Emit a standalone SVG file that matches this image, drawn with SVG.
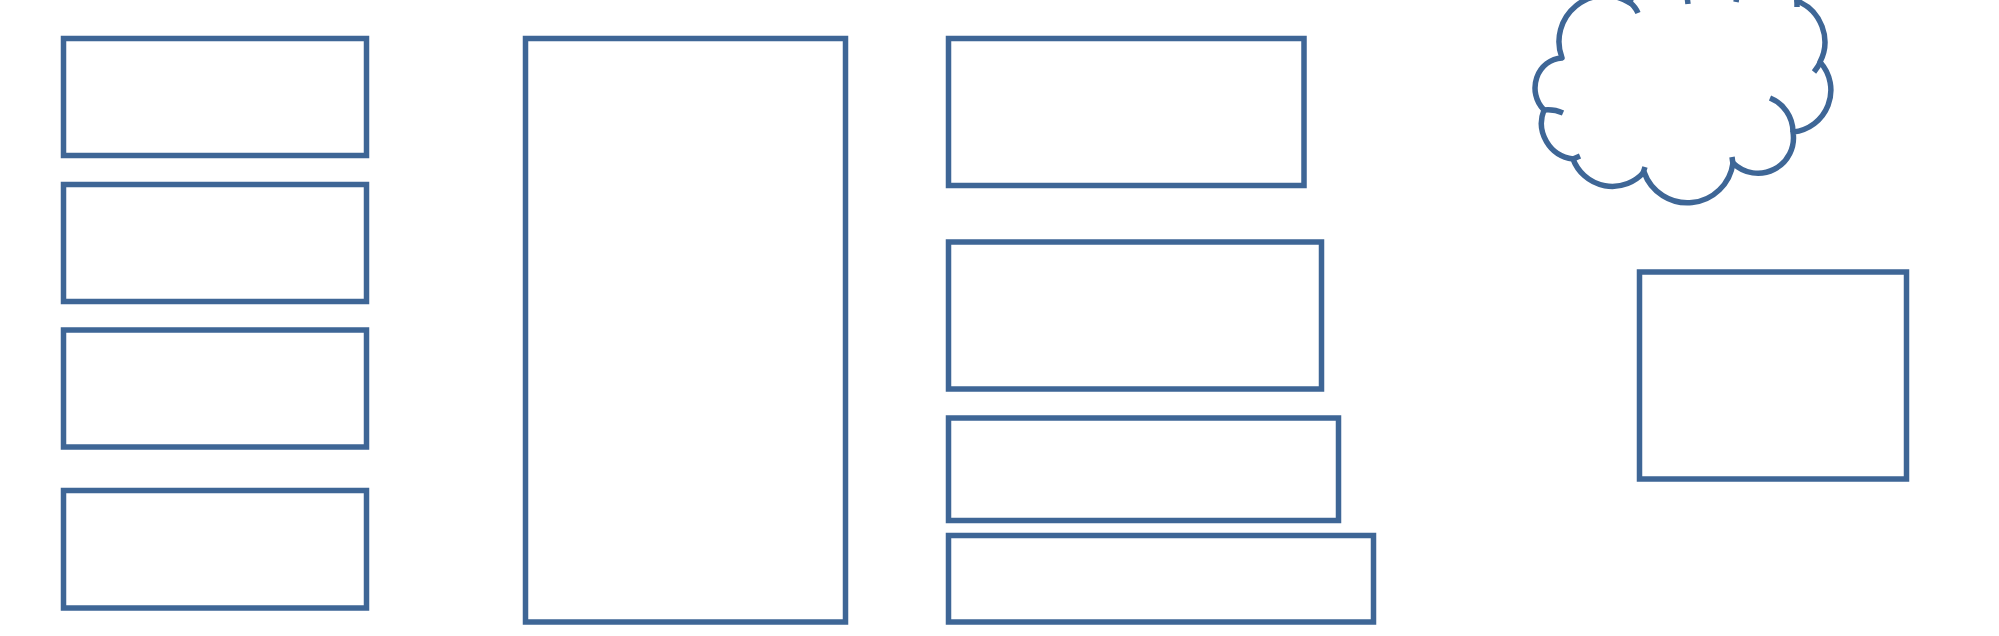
<svg xmlns="http://www.w3.org/2000/svg" width="1999" height="636" viewBox="0 0 1999 636">
  <style>
    .box { fill: #ffffff; stroke: #3e6696; stroke-width: 5.5; }
    .cloud { fill: #ffffff; stroke: #3e6696; stroke-width: 5.5; stroke-linejoin: round; }
    .tick { fill: none; stroke: #3e6696; stroke-width: 5.5; stroke-linecap: butt; }
  </style>
  <rect width="1999" height="636" fill="#ffffff"/>
  <g id="left-box-1"><rect class="box" x="63.5" y="38.5" width="303" height="117"/></g>
  <g id="left-box-2"><rect class="box" x="63.5" y="184.5" width="303" height="117"/></g>
  <g id="left-box-3"><rect class="box" x="63.5" y="330" width="303" height="117"/></g>
  <g id="left-box-4"><rect class="box" x="63.5" y="490.5" width="303" height="117.5"/></g>
  <g id="tall-box"><rect class="box" x="525.5" y="38.5" width="320" height="583.5"/></g>
  <g id="mid-box-1"><rect class="box" x="948.5" y="38.5" width="355.5" height="147"/></g>
  <g id="mid-box-2"><rect class="box" x="948.5" y="242" width="373" height="147"/></g>
  <g id="mid-box-3"><rect class="box" x="948.5" y="418" width="390" height="102.5"/></g>
  <g id="mid-box-4"><rect class="box" x="948.5" y="535.5" width="425" height="86.5"/></g>
  <g id="right-box"><rect class="box" x="1639.5" y="272" width="267" height="207"/></g>
  <g id="cloud">
    <path class="cloud" d="M 1562 58 A 28 30 0 0 0 1544 110 A 36 36 0 0 0 1573 159 A 42 42 0 0 0 1644 172 A 46 46 0 0 0 1733 163 A 35.5 35.5 0 0 0 1793 132 A 42 42 0 0 0 1820 62 A 44 44 0 0 0 1797 1 A 30 30 0 0 0 1737 -3 A 27 27 0 0 0 1687 -3 A 30 30 0 0 0 1630 3 A 46 46 0 0 0 1562 58 Z"/>
    <path class="tick" d="M 1793 132 A 37 37 0 0 0 1770 98"/>
    <path class="tick" d="M 1544 110 Q 1554 109 1563 113"/>
    <path class="tick" d="M 1628 1 Q 1635 6 1638 13"/>
    <path class="tick" d="M 1573 159 L 1580 156"/>
    <path class="tick" d="M 1643 173 L 1645 167"/>
    <path class="tick" d="M 1733 164 L 1732 157"/>
    <path class="tick" d="M 1821 61 Q 1818 67 1814 72"/>
    <path class="tick" d="M 1797 -2 L 1797 7"/>
    <path class="tick" d="M 1687 -4 L 1688 4"/>
    <path class="tick" d="M 1737 -4 L 1736 2"/>
  </g>
  <g id="connectors"></g>
</svg>
